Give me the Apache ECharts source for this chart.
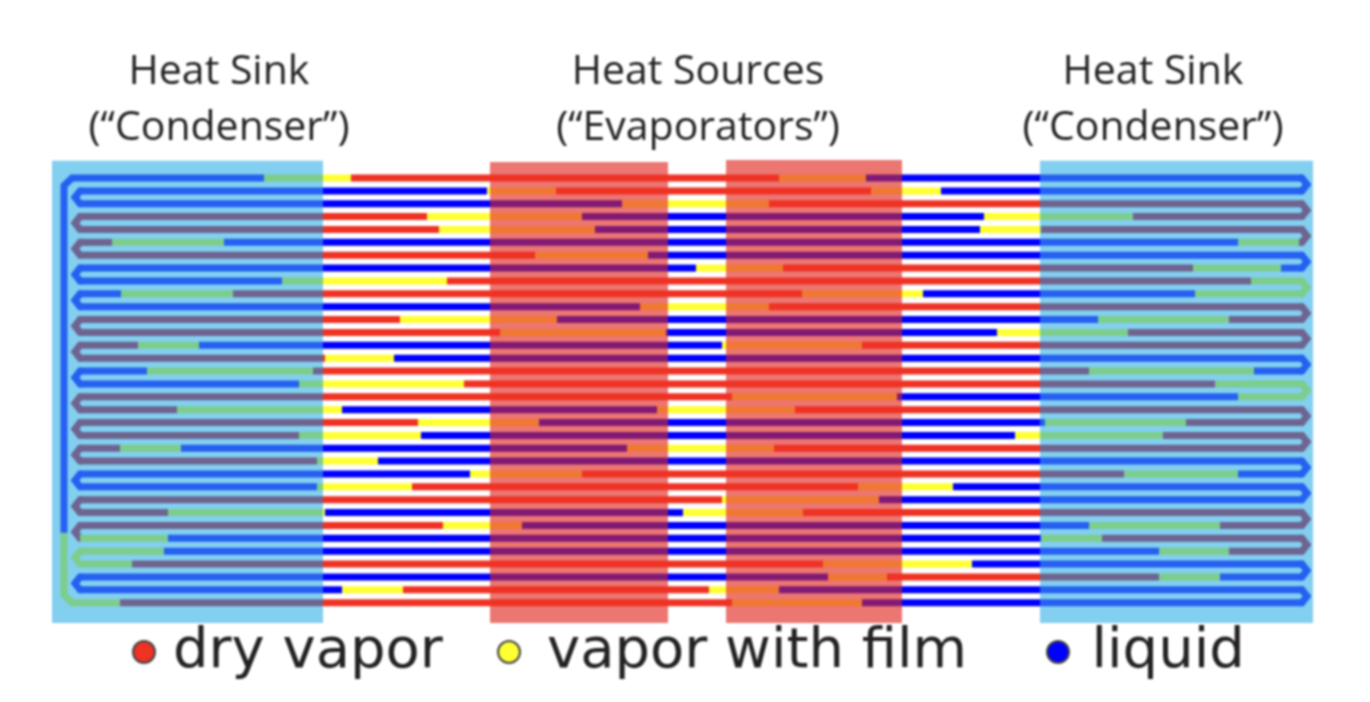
<!DOCTYPE html>
<html>
<head>
<meta charset="utf-8">
<style>html,body{margin:0;padding:0;background:#fff}#chart{width:1370px;height:702px;filter:blur(0.85px)}</style>
<script src="https://cdn.jsdelivr.net/npm/echarts@6/dist/echarts.min.js"></script>
</head>
<body>
<div id="chart"></div>
<script>
// Phase along each channel, read left to right: state, position where it ends, next state, ...
var rows = [
  ['B',264,'Y',351,'R',779,'Y',866,'B'],
  ['B',487,'Y',556,'R',871,'Y',941,'B'],
  ['B',622,'Y',769,'R'],
  ['R',427,'Y',582,'B',984,'Y',1133,'R'],
  ['R',439,'Y',595,'B',980,'Y',1041,'R'],
  ['R',112,'Y',224,'B',1238,'Y',1299,'R'],
  ['R',535,'Y',648,'B'],
  ['B',696,'Y',783,'R',1193,'Y',1281,'B'],
  ['B',282,'Y',447,'R',1251,'Y'],
  ['B',121,'Y',233,'R',802,'Y',923,'B',1195,'Y'],
  ['B',640,'Y',769,'R'],
  ['R',400,'Y',557,'B',1098,'Y',1229,'R'],
  ['R',500,'Y',666,'B',997,'Y',1128,'R'],
  ['R',138,'Y',199,'B',722,'Y',862,'R'],
  ['R',325,'Y',394,'B'],
  ['B',147,'Y',313,'R',1089,'Y',1254,'B'],
  ['B',299,'Y',464,'R',1215,'Y'],
  ['R',732,'Y',897,'B',1238,'Y'],
  ['R',177,'Y',342,'B',657,'Y',795,'R'],
  ['R',418,'Y',539,'B',1045,'Y',1186,'R'],
  ['R',299,'Y',421,'B',1015,'Y',1163,'R'],
  ['R',120,'Y',181,'B',627,'Y',774,'R'],
  ['R',317,'Y',378,'B'],
  ['B',470,'Y',582,'R',1124,'Y',1238,'B'],
  ['B',317,'Y',412,'R',858,'Y',953,'B'],
  ['R',722,'Y',879,'B'],
  ['R',168,'Y',325,'B',683,'Y',803,'R'],
  ['R',443,'Y',522,'B',1089,'Y',1220,'R'],
  ['Y',168,'B',1041,'Y',1102,'R'],
  ['Y',164,'B',1159,'Y',1229,'R'],
  ['Y',132,'R',823,'Y',972,'B'],
  ['B',828,'Y',887,'R',1159,'Y',1220,'B'],
  ['B',342,'Y',403,'R',709,'Y',779,'B'],
  ['Y',120,'R',732,'Y',862,'B']
];
var stateNames = {R:'dry vapor', Y:'vapor with film', B:'liquid'};
var stateColors = {R:'#ee3224', Y:'#ffff33', B:'#0000ff'};
var sinkColors = {R:'#6e6490', Y:'#7dcd8c', B:'#2560f0'};
var sourceColors = {R:'#ee3224', Y:'#f07832', B:'#821a73'};
var legendLeft = {R:127, Y:492, B:1041};
var legendTextGap = {R:13, Y:22, B:17.5};
// Manifold on the left edge: [state, [x,row], [x,row], ...]
var manifold = [
  ['B',[72,0],[64,0.6],[64,27.56]],
  ['Y',[64,27.56],[64,32.4],[72,33]]
];
// Zones: x0, x1, top row, bottom row, fill, colours of the phases seen through it
var zones = [
  {x0:52,  x1:323,  top:-1.35, bottom:34.58, color:'#82cff0', tint:sinkColors},
  {x0:490, x1:668,  top:-1.25, bottom:34.58, color:'#ec7672', tint:sourceColors},
  {x0:726, x1:902,  top:-1.4,  bottom:34.58, color:'#ec7672', tint:sourceColors},
  {x0:1040,x1:1313, top:-1.35, bottom:34.58, color:'#82cff0', tint:sinkColors}
];
var headings = [
  {text:'Heat Sink\n(“Condenser”)', x:219},
  {text:'Heat Sources\n(“Evaporators”)', x:698},
  {text:'Heat Sink\n(“Condenser”)', x:1153}
];
var rowStart = 80, rowEnd = 1302;

function tintAt(s,x){
  for (var i=0;i<zones.length;i++) if (x>=zones[i].x0 && x<=zones[i].x1) return zones[i].tint[s];
  return stateColors[s];
}
var pieces = {R:[],Y:[],B:[]};
function addRun(s,a,b,row){
  var cuts = [a];
  zones.forEach(function(z){ [z.x0,z.x1].forEach(function(c){ if (c>a && c<b) cuts.push(c); }); });
  cuts.push(b);
  cuts.sort(function(p,q){return p-q;});
  for (var i=0;i<cuts.length-1;i++)
    pieces[s].push({pts:[[cuts[i],row],[cuts[i+1],row]], color:tintAt(s,(cuts[i]+cuts[i+1])/2)});
}
rows.forEach(function(r,i){
  var x = (i===0||i===33) ? 70 : rowStart;
  for (var k=0;k<r.length;k+=2){
    var end = k+1<r.length ? r[k+1] : rowEnd;
    addRun(r[k],x,end,i);
    x = end;
  }
});
// U-bends: left joins rows 1-2, 3-4..., right joins rows 0-1, 2-3...
for (var i=0;i<33;i++){
  var right = i%2===0;
  var st = right ? rows[i][rows[i].length-1] : rows[i][0];
  if (right) pieces[st].push({pts:[[1299.5,i],[rowEnd,i],[1307,i+0.5],[rowEnd,i+1],[1299.5,i+1]], color:sinkColors[st]});
  else pieces[st].push({pts:[[82,i],[rowStart,i],[75,i+0.5],[rowStart,i+1],[82,i+1]], color:sinkColors[st]});
}
manifold.forEach(function(m){ pieces[m[0]].push({pts:m.slice(1), color:sinkColors[m[0]]}); });

function stateSeries(s){
  return {
    type:'custom', name:stateNames[s], coordinateSystem:'cartesian2d', clip:false, z:5,
    itemStyle:{color:stateColors[s]}, silent:true, animation:false,
    data:pieces[s].map(function(p,i){return [i];}),
    encode:{x:0,y:0},
    renderItem:function(params,api){
      var p = pieces[s][api.value(0)];
      return {type:'polyline', shape:{points:p.pts.map(function(q){return api.coord(q);})},
        style:{stroke:p.color, lineWidth:7, fill:null, lineJoin:'miter', miterLimit:4, lineCap:'butt'}};
    }
  };
}
var zoneSeries = {
  type:'custom', name:'zones', coordinateSystem:'cartesian2d', clip:false, z:2, silent:true, animation:false,
  data:zones.map(function(z,i){return [i];}), encode:{x:0,y:0},
  renderItem:function(params,api){
    var z = zones[api.value(0)];
    var a = api.coord([z.x0,z.top]), b = api.coord([z.x1,z.bottom]);
    return {type:'rect', shape:{x:a[0],y:a[1],width:b[0]-a[0],height:b[1]-a[1]}, style:{fill:z.color}};
  }
};
var chart = echarts.init(document.getElementById('chart'));
chart.setOption({
  animation:false,
  backgroundColor:'#fff',
  grid:{left:0,right:0,top:160,bottom:79},
  xAxis:{type:'value',min:0,max:1370,show:false},
  yAxis:{type:'value',min:-1.4,max:34.58,inverse:true,show:false},
  title:headings.map(function(h){
    return {text:h.text,left:h.x,top:44,padding:0,textAlign:'center',
      textStyle:{fontFamily:'Open Sans',fontSize:41,fontWeight:'normal',color:'#222',lineHeight:56}};
  }),
  legend:['R','Y','B'].map(function(s){
    return {data:[{name:stateNames[s],icon:'circle',itemStyle:{color:stateColors[s],borderColor:'#444',borderWidth:2}}],
      left:legendLeft[s],top:619,itemWidth:22,itemHeight:22,selectedMode:false,
      textStyle:{fontFamily:'DejaVu Sans',fontSize:56,color:'#222',padding:[0,0,0,legendTextGap[s]]}};
  }),
  series:[zoneSeries,stateSeries('R'),stateSeries('Y'),stateSeries('B')]
});
</script>
</body>
</html>
